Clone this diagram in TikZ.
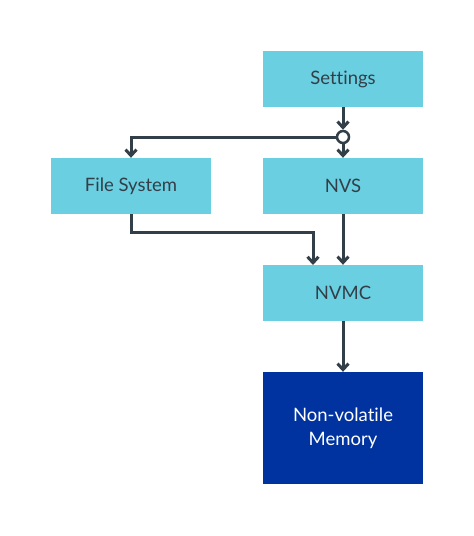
\documentclass[tikz,border=0pt]{standalone}
\usepackage{fontspec}
\setmainfont{Lato}[Ligatures=NoCommon]
\usetikzlibrary{arrows.meta}
\definecolor{boxcyan}{HTML}{69CFE1}
\definecolor{memblue}{HTML}{0033A0}
\definecolor{linegray}{HTML}{333F48}
\begin{document}
\begin{tikzpicture}[x=1pt,y=-1pt]
\tikzset{block/.style = {draw=none,fill=boxcyan,minimum width=160pt,minimum height=56pt,text=linegray,font=\fontsize{18.5}{24}\selectfont},
  link/.style = {draw=linegray,line width=3pt,-{Straight Barb[length=6pt,width=11pt]}}}
\useasboundingbox (0,0) rectangle (474,536);
% blocks
\foreach \x/\y/\name/\label in {343/79/set/Settings,131/186/fs/File System,343/186/nvs/NVS,343/293/nvmc/NVMC} {
    \node[block] (\name) at (\x,\y) {\label};
}
\node[block,fill=memblue,text=white,minimum height=112pt,align=center] (mem) at (343,428) {Non-volatile\\Memory};
% junction
\node[circle,draw=linegray,fill=white,line width=2.5pt,minimum size=12pt,inner sep=0pt] (split) at (343,137) {};
\coordinate (nvmcin) at (313,265);
% edges
\draw[link] (set) -- (split);
\draw[link] (split) -- (nvs);
\draw[link] (split.west) -| (fs);
\draw[link] (fs.south) -- ++(0,18) -| (nvmcin);
\draw[link] (nvs) -- (nvmc);
\draw[link] (nvmc) -- (mem);
\end{tikzpicture}
\end{document}
